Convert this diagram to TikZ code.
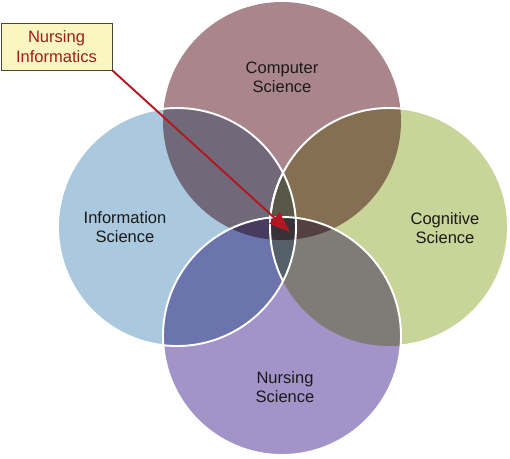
\documentclass[tikz,border=0pt]{standalone}
\usepackage{fontspec}
\setmainfont{Liberation Sans}
\usetikzlibrary{positioning, arrows.meta}

\definecolor{compfill}{RGB}{170,134,140}
\definecolor{infofill}{RGB}{170,200,222}
\definecolor{cogfill}{RGB}{200,212,152}
\definecolor{nursfill}{RGB}{162,148,200}
\definecolor{boxfill}{RGB}{250,246,194}
\definecolor{boxline}{RGB}{70,70,56}
\definecolor{arrowred}{RGB}{180,22,34}
\definecolor{boxtext}{RGB}{160,30,30}
\definecolor{labeltext}{RGB}{26,26,26}

\begin{document}
\begin{tikzpicture}[
    x=0.02cm, y=-0.02cm,
    >={Triangle[length=0.42cm, width=0.3cm]},
    field/.style={font=\fontsize{9.4}{10.8}\selectfont, text=labeltext, align=center},
    rim/.style={draw=white, line width=1.1pt},
    notebox/.style={draw=boxline, fill=boxfill, text=boxtext, align=center,
        minimum width=2.22cm, minimum height=0.94cm, inner sep=0pt,
        font=\fontsize{9.4}{11.3}\selectfont}
]
    \useasboundingbox (0,0) rectangle (510,458);

    % the four fields
    \begin{scope}[blend group=multiply]
        \fill[compfill] (282,121) circle (119);
        \fill[cogfill]  (389,227) circle (119);
        \fill[nursfill] (282,336) circle (119);
        \fill[infofill] (177,227) circle (119);
    \end{scope}

    % white rims
    \begin{scope}[even odd rule]
        \clip (282,336) circle (119) (-10,-10) rectangle (520,470);
        \draw[rim] (389,227) circle (119);
    \end{scope}
    \begin{scope}
        \clip (177,227) circle (119);
        \draw[rim] (389,227) circle (119);
    \end{scope}
    \draw[rim] (282,336) circle (119);
    \draw[rim] (177,227) circle (119);

    \node[field] (comp) at (282,77)  {Computer\\Science};
    \node[field] (info) at (125,227) {Information\\Science};
    \node[field] (cog)  at (445,228) {Cognitive\\Science};
    \node[field] (nurs) at (285,387) {Nursing\\Science};

    \node[notebox] (ni) at (56.5,46.5) {Nursing\\Informatics};
    \coordinate (core) at (290,232);
    \draw[->, arrowred, line width=1.1pt] (ni.south east) -- (core);
\end{tikzpicture}
\end{document}
